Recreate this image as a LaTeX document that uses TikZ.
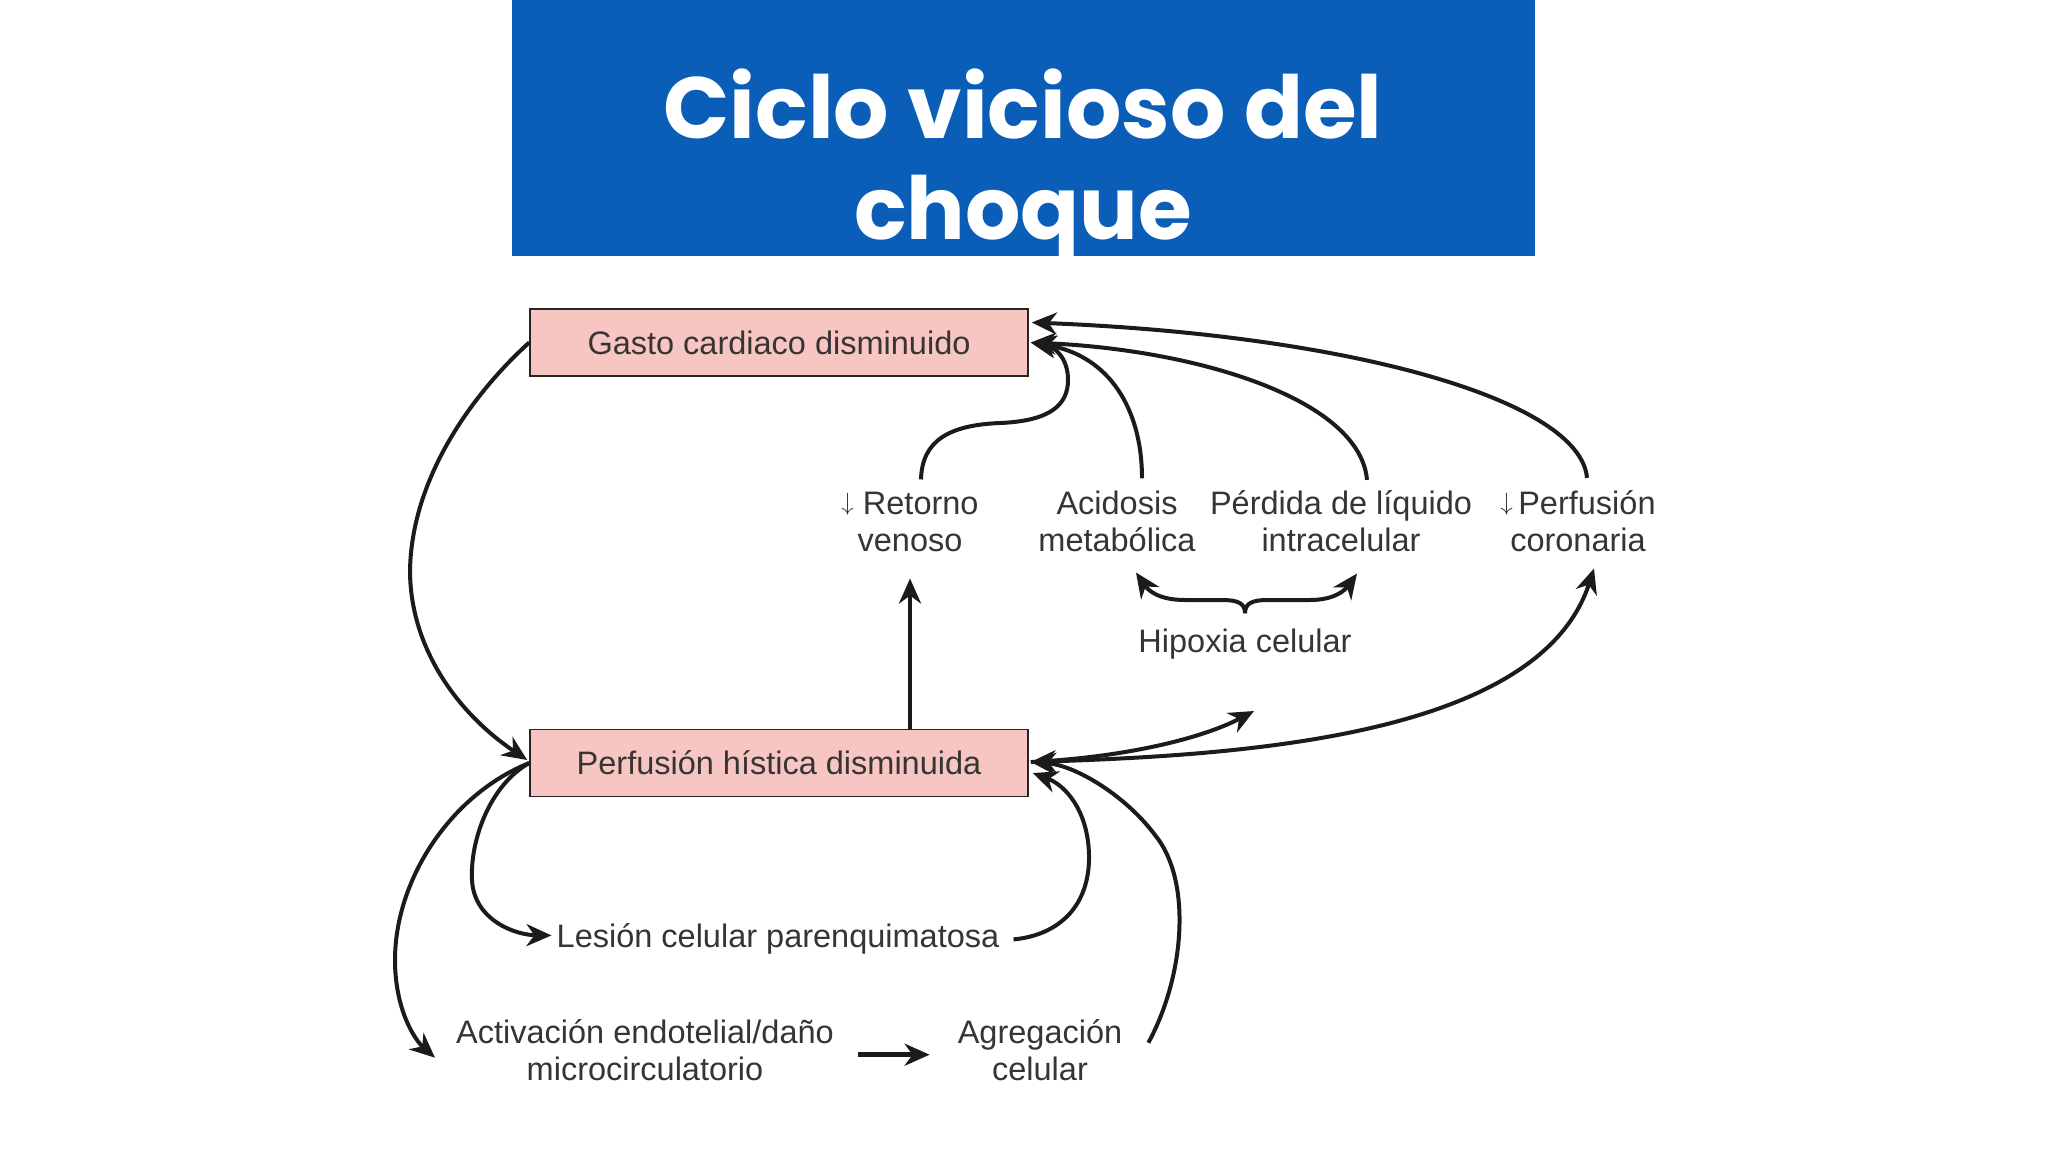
\documentclass[tikz,border=0pt]{standalone}
\usepackage{fontspec}
\setmainfont{Liberation Sans}
\newfontfamily\titlefont{Poppins}
\usetikzlibrary{arrows.meta,calc}
\definecolor{titleblue}{RGB}{11,94,184}
\definecolor{pinkfill}{RGB}{248,198,194}
\definecolor{boxdraw}{RGB}{40,36,36}
\definecolor{ink}{RGB}{28,26,26}
\definecolor{textcol}{RGB}{55,52,52}
\newcommand{\dnarrow}{\raisebox{0.12em}{$\downarrow$}}
\begin{document}
\begin{tikzpicture}[x=1pt,y=-1pt,
  box/.style={draw=boxdraw, line width=1.5pt, fill=pinkfill, minimum width=498pt, minimum height=67pt, inner sep=0pt, font=\fontsize{32.5}{37}\selectfont, text=textcol},
  lbl/.style={align=center, inner sep=2pt, font=\fontsize{32.5}{37}\selectfont, text=textcol},
  conn/.style={draw=ink, line width=4pt, -{Stealth[length=25pt,width=22pt,inset=8pt]}},
  conntwo/.style={draw=ink, line width=4pt, {Stealth[length=25pt,width=22pt,inset=8pt]}-{Stealth[length=25pt,width=22pt,inset=8pt]}},
  titlestyle/.style={font=\titlefont\bfseries\fontsize{87}{101}\selectfont, text=white, align=center, inner sep=0pt}
]
\useasboundingbox (0,0) rectangle (2048,1152);
\fill[white] (0,0) rectangle (2048,1152);

% title
\node[fill=titleblue, minimum width=1023pt, minimum height=256pt, inner sep=0pt] (titlebox) at (1023.5,128) {};
\node[titlestyle, anchor=base] (title) at (1023,239) {Ciclo vicioso del\\choque};

% boxes
\node[box] (gasto) at (779,342.5) {Gasto cardiaco disminuido};
\node[box] (perf) at (779,763) {Perfusión hística disminuida};

% labels (base = last line)
\node[lbl, anchor=base] (retorno) at (910,551) {\dnarrow\ Retorno\\venoso};
\node[lbl, anchor=base] (acid) at (1117,551) {Acidosis\\metabólica};
\node[lbl, anchor=base] (perdida) at (1341,551) {Pérdida de líquido\\intracelular};
\node[lbl, anchor=base] (coron) at (1578,551) {\dnarrow\,Perfusión\\coronaria};
\node[lbl, anchor=base] (hipoxia) at (1245,652) {Hipoxia celular};
\node[lbl, anchor=base] (lesion) at (778,947) {Lesión celular parenquimatosa};
\node[lbl, anchor=base] (activ) at (645,1080) {Activación endotelial/daño\\microcirculatorio};
\node[lbl, anchor=base] (agreg) at (1040,1080) {Agregación\\celular};

\coordinate (hipbranch) at (1254,711);
\coordinate (cusp) at ($(hipoxia.north)+(0,-13)$);

% left big arc gasto -> perf
\draw[conn] (gasto.west) .. controls (482,385) and (412,470) .. (410,570) .. controls (410,650) and (460,715) .. ($(perf.west)+(-2,-3)$);
% perf -> lesion
\draw[conn] (perf.west) .. controls (490,785) and (470,840) .. (472,880) .. controls (474,920) and (515,935) .. ($(lesion.west)+(-3,-3)$);
% perf -> activacion
\draw[conn] (perf.west) .. controls (450,795) and (395,880) .. (395,960) .. controls (395,1010) and (415,1040) .. ($(activ.west)+(-19,8)$);
% activacion -> agregacion
\draw[conn, line width=5pt] ($(activ.east)+(22,5)$) -- ($(agreg.west)+(-26,5)$);
% agregacion -> perf
\draw[conn] ($(agreg.east)+(24,-7)$) .. controls (1185,975) and (1192,880) .. (1155,835) .. controls (1125,795) and (1075,765) .. ($(perf.east)+(2,-1)$);
% lesion -> perf
\draw[conn] ($(lesion.east)+(12,1)$) .. controls (1060,935) and (1090,905) .. (1089,855) .. controls (1088,810) and (1065,785) .. ($(perf.east)+(4,10)$);
% perf <-> coronaria
\draw[conntwo] ($(perf.east)+(2,-1)$) .. controls (1250,755) and (1540,735) .. ($(coron.south)+(16,15)$);
% perf -> hipoxia branch
\draw[conn] ($(perf.east)+(2,-1)$) .. controls (1130,757) and (1205,737) .. (hipbranch);
% perf -> retorno
\draw[conn] (retorno.south |- perf.north) -- ($(retorno.south)+(0,25)$);
% retorno -> gasto
\draw[conn] ($(retorno.north)+(11,-10)$) .. controls (922,440) and (950,425) .. (1000,423) .. controls (1050,421) and (1068,405) .. (1068,380) .. controls (1068,358) and (1055,347) .. ($(gasto.east)+(2,0)$);
% acidosis -> gasto
\draw[conn] ($(acid.north)+(25,-10)$) .. controls (1142,410) and (1110,355) .. ($(gasto.east)+(2,0)$);
% perdida -> gasto
\draw[conn] ($(perdida.north)+(26,-8)$) .. controls (1360,400) and (1200,350) .. ($(gasto.east)+(2,0)$);
% coronaria -> gasto
\draw[conn] ($(coron.north)+(9,-10)$) .. controls (1580,400) and (1350,335) .. ($(gasto.east)+(3,-20)$);
% hipoxia brace
\draw[conn] (cusp) .. controls ($(cusp)+(0,-10)$) and (1238,600) .. (1222,600) -- (1185,600) .. controls (1158,600) and (1148,590) .. ($(acid.south)+(19,19)$);
\draw[conn] (cusp) .. controls ($(cusp)+(0,-10)$) and (1252,600) .. (1268,600) -- (1310,600) .. controls (1335,600) and (1345,590) .. ($(perdida.south)+(16,20)$);
\end{tikzpicture}
\end{document}
